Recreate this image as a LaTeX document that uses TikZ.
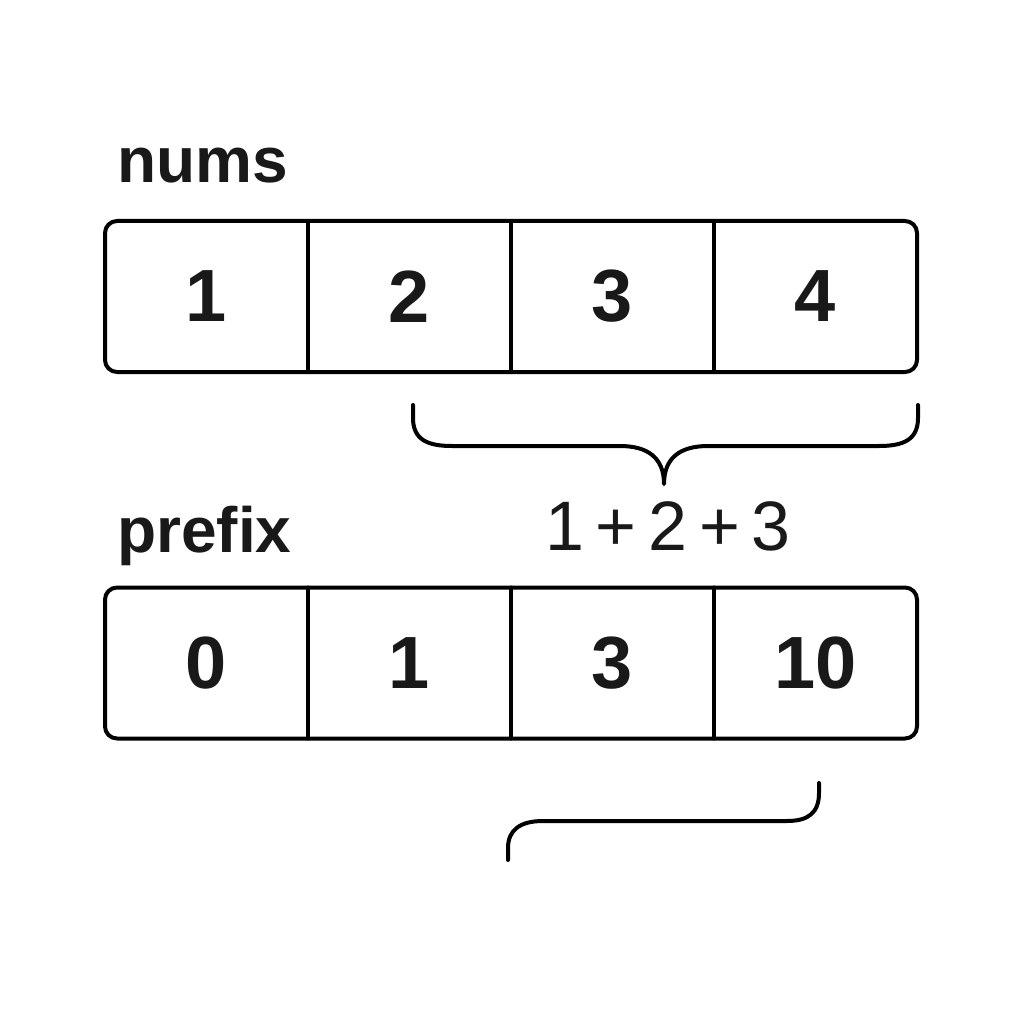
\documentclass[tikz,border=0pt]{standalone}
\usepackage{fontspec}
\setmainfont{Liberation Sans}
\usepackage{tikz}
\usetikzlibrary{positioning}

\begin{document}
\begin{tikzpicture}[
		x=1pt, y=-1pt
		,line/.style={line width=4pt, color=black, line cap=round, line join=round}
		,cell/.style={minimum width=203pt, minimum height=151pt, inner sep=0pt, outer sep=0pt,
			text=black!90, font=\fontsize{74}{80}\selectfont\bfseries}
		,title/.style={anchor=base west, inner sep=0pt, text=black!90,
			font=\fontsize{64}{70}\selectfont\bfseries}
		,sum/.style={inner sep=0pt, text=black!90, font=\fontsize{70}{76}\selectfont}
	]
	\useasboundingbox [fill=white] (0,0) rectangle (1024,1024);

	\node [title] (numsL) at (117,183) {nums};
	\node [cell] (n1) at (206.5,296.5) {1};
	\node [cell, right=0pt of n1] (n2) {2};
	\node [cell, right=0pt of n2] (n3) {3};
	\node [cell, right=0pt of n3] (n4) {4};
	\draw [line, rounded corners=12pt] (n1.north west) rectangle (n4.south east);
	\foreach \i in {1,2,3} {
		\draw [line] (n\i.north east) -- (n\i.south east);
	}

	\draw [line] (413,405) -- (413,418) .. controls (413,440) and (428,446) .. (452,446)
		-- (620,446) .. controls (648,446) and (664,458) .. (664,484)
		.. controls (664,458) and (680,446) .. (708,446)
		-- (879,446) .. controls (903,446) and (918,440) .. (918,418) -- (918,405);
	\node [sum] (sumL) at (668,526) {1\,+\,2\,+\,3};

	\node [title] (prefixL) at (117,552) {prefix};
	\node [cell] (p1) at (206.5,663) {0};
	\node [cell, right=0pt of p1] (p2) {1};
	\node [cell, right=0pt of p2] (p3) {3};
	\node [cell, right=0pt of p3] (p4) {10};
	\draw [line, rounded corners=12pt] (p1.north west) rectangle (p4.south east);
	\foreach \i in {1,2,3} {
		\draw [line] (p\i.north east) -- (p\i.south east);
	}

	\draw [line] (819,783) -- (819,793) .. controls (819,813) and (808,821) .. (787,821)
		-- (543,821) .. controls (520,821) and (508,830) .. (508,848) -- (508,860);
\end{tikzpicture}
\end{document}
